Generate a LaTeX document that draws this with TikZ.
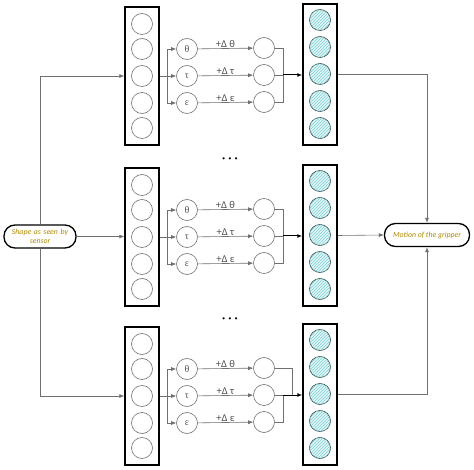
\documentclass[tikz,border=0pt]{standalone}
\usepackage{fontspec}
\newfontfamily\labelfont{Carlito}
\newfontfamily\greekfont{Liberation Serif}
\usetikzlibrary{arrows.meta,patterns}
\definecolor{linegray}{HTML}{707070}
\definecolor{textgray}{HTML}{505050}
\definecolor{sensorgold}{HTML}{B08A00}
\definecolor{hatchfill}{HTML}{E2F6F7}
\definecolor{hatchline}{HTML}{7FD0D3}
\definecolor{hatchdraw}{HTML}{3C5656}
\tikzset{
    layerbox/.style={draw, line width=1.4pt, minimum width=34pt, inner sep=0pt},
    unit/.style={circle, draw=linegray, line width=0.6pt, minimum size=21pt, inner sep=0pt},
    outunit/.style={circle, draw=hatchdraw, line width=0.7pt, minimum size=21pt, inner sep=0pt,
        fill=hatchfill, postaction={pattern=north east lines, pattern color=hatchline}},
    param/.style={unit, text=textgray, font=\greekfont\fontsize{10}{10}\selectfont},
    deltalabel/.style={text=textgray, inner sep=1pt, font=\labelfont\fontsize{10.5}{10.5}\selectfont},
    conn/.style={draw=linegray, line width=0.6pt},
    arr/.style={-{Latex[length=5pt,width=4pt]}},
    ends/.style={draw, line width=1.3pt, rounded corners=11pt, minimum height=23pt, align=center,
        inner sep=1pt, text=sensorgold, font=\labelfont\itshape\fontsize{7.8}{9}\selectfont}
}
\begin{document}
\begin{tikzpicture}[x=1pt, y=-1pt]
    \useasboundingbox (0,0) rectangle (474,470);
    % the three networks
    \foreach \r/\y/\tx in {a/76/283, b/237/283, c/396/292} {
        % input layer
        \node[layerbox, minimum height=138pt] (\r L) at (142,\y) {};
        \foreach \i/\dy in {1/-52, 2/-27, 3/0, 4/27, 5/52}
            \node[unit] (\r L\i) at (142,{\y+(\dy)}) {};
        % parameters and their outputs
        \foreach \i/\dy/\g in {1/-27/θ, 2/0/τ, 3/27/ε} {
            \node[param] (\r p\i) at (187,{\y+(\dy)}) {\g};
            \node[unit] (\r o\i) at (264,{\y+(\dy)-1}) {};
            \draw[conn, arr] (\r p\i) -- node[above, deltalabel] {+Δ \g} (\r o\i);
        }
        % output layer
        \node[layerbox, minimum height=141pt] (\r R) at (320,{\y-1.5}) {};
        \foreach \i/\dy in {1/-54, 2/-27, 3/0, 4/27, 5/54}
            \node[outunit] (\r R\i) at (320,{\y-2+(\dy)}) {};
        % connectors
        \coordinate (\r s) at (167,\y);
        \coordinate (\r j) at (283,{\y-1});
        \coordinate (\r k) at (\tx,{\y-1});
        \draw[conn] (\r L.east) -- (\r s);
        \draw[conn, arr] (\r s) |- (\r p1);
        \draw[conn, arr] (\r s) -- (\r p2);
        \draw[conn, arr] (\r s) |- (\r p3);
        \draw[conn] (\r o1.east) -| (\r k);
        \draw[conn] (\r o3.east) -| (\r j);
        \draw[conn] (\r o2.east) -- (\r j);
        \draw[arr, line width=1pt] (\r j) -- (\r R.west |- \r j);
    }
    \node[font=\fontsize{7.5}{7.5}\selectfont] (gap1) at (230,159) {\textbullet\textbullet\textbullet};
    \node[font=\fontsize{7.5}{7.5}\selectfont] (gap2) at (230,319) {\textbullet\textbullet\textbullet};
    % input and result
    \node[ends, minimum width=72pt, text width=66pt] (sensor) at (40,236.5) {Shape as seen by\\sensor};
    \node[ends, minimum width=85pt] (motion) at (427,235) {Motion of the gripper};
    \draw[conn, arr] (sensor.north) |- (aL.west);
    \draw[conn, arr] (sensor.east) -- (sensor.east -| bL.west);
    \draw[conn, arr] (sensor.south) |- (cL.west);
    \draw[conn, arr] (aR.east) -| (motion.north);
    \draw[conn, arr] (bR.east) -- (motion.west);
    \draw[conn, arr] (cR.east) -| (motion.south);
\end{tikzpicture}
\end{document}
